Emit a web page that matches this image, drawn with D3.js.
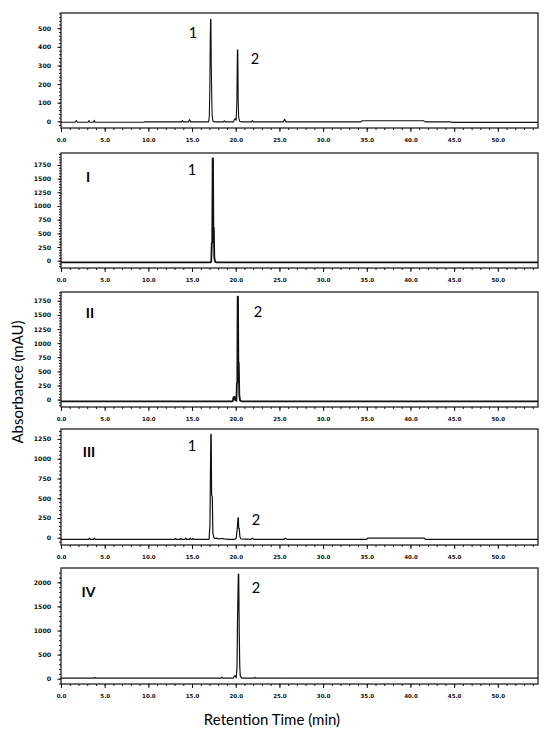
<!DOCTYPE html>
<html>
<head>
<meta charset="utf-8">
<script src="https://cdn.jsdelivr.net/npm/d3@7"></script>
<style>
  body { margin: 0; background: #fff; }
  svg { display: block; }
</style>
</head>
<body>
<div id="chart"></div>
<script>
// retention times (min) and absorbance (mAU)
const traceMix = [[0,-5],[1.6,-5],[1.75,4],[1.9,-5],[3.1,-5],[3.2,4],[3.3,-5],[3.7,-5],[3.8,5],[3.9,-5],
  [9.5,-5],[9.6,-3],[13.8,-3],[13.9,4],[14.0,-3],[14.6,-3],[14.7,9],[14.85,-3],[16.9,-3],[16.98,30],
  [17.04,195],[17.08,420],[17.12,548],[17.16,548],[17.2,300],[17.24,168],[17.3,30],[17.4,0],[17.55,-3],
  [18.6,-3],[18.7,3],[18.8,-3],[19.75,-3],[19.85,10],[19.95,15],[20.05,5],[20.13,100],[20.19,383],
  [20.24,383],[20.28,109],[20.34,20],[20.45,0],[20.65,-3],[21.8,-3],[21.9,4],[22.0,-3],[25.45,-3],
  [25.6,11],[25.75,-3],[34.3,-3],[34.5,3],[41.5,3],[41.7,-3],[44.6,-3],[44.8,-6],[54.6,-6]];
const traceI = [[0,-30],[17.1,-30],[17.2,-20],[17.26,318],[17.31,330],[17.36,1872],[17.4,1872],
  [17.44,622],[17.49,600],[17.55,60],[17.65,-20],[17.8,-30],[54.6,-30]];
const traceII = [[0,-30],[19.65,-30],[19.75,40],[19.85,50],[19.95,-10],[20.08,-20],[20.13,284],
  [20.18,300],[20.22,1822],[20.26,1822],[20.3,668],[20.35,650],[20.41,80],[20.5,-20],[20.7,-30],[54.6,-30]];
const traceIII = [[0,-20],[3.15,-20],[3.25,-5],[3.35,-20],[3.7,-20],[3.8,-5],[3.9,-20],[13.0,-20],
  [13.1,-8],[13.2,-20],[13.6,-20],[13.7,-8],[13.8,-20],[14.2,-20],[14.3,-6],[14.4,-20],[14.7,-20],
  [14.8,-4],[14.9,-20],[15.0,-20],[15.1,-8],[15.2,-20],[16.95,-20],[17.05,160],[17.1,752],[17.15,1309],
  [17.19,1309],[17.24,540],[17.32,520],[17.38,60],[17.5,0],[17.6,-10],[17.8,-5],[18.0,-15],[18.4,-10],
  [18.7,-15],[19.2,-20],[19.9,-20],[20.05,-10],[20.18,119],[20.26,253],[20.3,253],[20.34,119],
  [20.4,119],[20.48,10],[20.6,-15],[21.75,-20],[21.9,-5],[22.05,-20],[25.55,-20],[25.7,-5],[25.85,-20],
  [35.0,-20],[35.1,-6],[41.6,-6],[41.7,-20],[54.6,-20]];
const traceIV = [[0,10],[3.8,10],[3.9,25],[4.0,10],[18.3,10],[18.4,30],[18.5,10],[19.7,10],[19.85,55],
  [19.95,60],[20.05,20],[20.15,250],[20.21,1280],[20.3,2172],[20.34,2172],[20.4,975],[20.46,260],
  [20.52,60],[20.7,10],[22.1,10],[22.2,25],[22.3,10],[25.5,10],[25.65,20],[25.8,10],[54.6,10]];

const traces = [traceMix, traceI, traceII, traceIII, traceIV];
const yTicks = [
  [0, 100, 200, 300, 400, 500],
  [0, 250, 500, 750, 1000, 1250, 1500, 1750],
  [0, 250, 500, 750, 1000, 1250, 1500, 1750],
  [0, 250, 500, 750, 1000, 1250],
  [0, 500, 1000, 1500, 2000]
];
const xTicks = [0, 5, 10, 15, 20, 25, 30, 35, 40, 45, 50];
const panelNames = ['', 'I', 'II', 'III', 'IV'];
const peakNames = [['1', '2'], ['1'], ['2'], ['1', '2'], ['2']];
const xTitle = 'Retention Time (min)';
const yTitle = 'Absorbance (mAU)';

// layout
const W = 550, H = 732;
const left = 61, right = 538;
const tops = [13, 153, 292, 429, 568];
const bottoms = [128, 268, 407, 545, 684];
const yDomains = [[-36, 582], [-133, 1969], [-131, 1906], [-92, 1376], [-110, 2297]];
const strokeW = [1.1, 1.8, 1.8, 1.2, 1.2];
// [x px, dy px from panel top] for text annotations
const panelNamePos = [null, [88, 24], [90, 21], [89, 23], [88.5, 24]];
const peakNamePos = [[[193, 20], [255, 46]], [[192, 17]], [[258, 20]], [[192, 17], [256, 91]], [[256, 20]]];

const svg = d3.select('#chart').append('svg').attr('width', W).attr('height', H);
const font = 'Lato, "Open Sans", sans-serif';
const tickFont = '"DejaVu Sans", sans-serif';

const x = d3.scaleLinear().domain([0, 54.6]).range([left, right]);

traces.forEach((data, i) => {
  const g = svg.append('g');
  const y = d3.scaleLinear().domain(yDomains[i]).range([bottoms[i], tops[i]]);
  const step = yTicks[i][1] - yTicks[i][0];
  const minor = d3.range(yDomains[i][0] - (yDomains[i][0] % (step / 5)), yDomains[i][1], step / 5)
    .filter(v => v >= yDomains[i][0]);

  // frame
  g.append('rect').attr('x', left).attr('y', tops[i])
    .attr('width', right - left).attr('height', bottoms[i] - tops[i])
    .attr('fill', 'none').attr('stroke', '#333').attr('stroke-width', 1.4);

  // minor ticks
  g.append('g').attr('transform', `translate(${left},0)`)
    .call(d3.axisLeft(y).tickValues(minor).tickSize(2).tickFormat(''))
    .call(a => a.select('.domain').remove());
  g.append('g').attr('transform', `translate(0,${bottoms[i]})`)
    .call(d3.axisBottom(x).tickValues(d3.range(0, 55, 1)).tickSize(2).tickFormat(''))
    .call(a => a.select('.domain').remove());

  // major ticks
  const ya = g.append('g').attr('transform', `translate(${left},0)`)
    .call(d3.axisLeft(y).tickValues(yTicks[i]).tickSize(3.5).tickPadding(6.5).tickFormat(d3.format('d')));
  ya.select('.domain').remove();
  ya.selectAll('text').attr('font-family', tickFont).attr('font-weight', 'bold')
    .attr('font-size', 6.2).attr('fill', '#111');

  const xa = g.append('g').attr('transform', `translate(0,${bottoms[i]})`)
    .call(d3.axisBottom(x).tickValues(xTicks).tickSize(4).tickPadding(6).tickFormat(d3.format('.1f')));
  xa.select('.domain').remove();
  xa.selectAll('text').attr('font-family', tickFont).attr('font-weight', 'bold')
    .attr('font-size', 5.5).attr('fill', '#111');
  g.selectAll('.tick line').attr('stroke', '#111');

  // trace
  g.append('path').datum(data)
    .attr('d', d3.line().x(d => x(d[0])).y(d => y(d[1])))
    .attr('fill', 'none').attr('stroke', '#111').attr('stroke-width', strokeW[i])
    .attr('stroke-linejoin', 'round');

  if (panelNames[i]) {
    g.append('text').attr('x', panelNamePos[i][0]).attr('y', tops[i] + panelNamePos[i][1] + 5)
      .attr('text-anchor', 'middle').attr('font-family', font).attr('font-weight', 'bold')
      .attr('font-size', 14).text(panelNames[i]);
  }
  peakNames[i].forEach((p, j) => {
    g.append('text').attr('x', peakNamePos[i][j][0]).attr('y', tops[i] + peakNamePos[i][j][1] + 5)
      .attr('text-anchor', 'middle').attr('font-family', font)
      .attr('font-size', 14.5).text(p);
  });
});

svg.append('text').attr('x', 272).attr('y', 725).attr('text-anchor', 'middle')
  .attr('font-family', font).attr('font-size', 15).text(xTitle);
svg.append('text').attr('transform', 'translate(23,382) rotate(-90)').attr('text-anchor', 'middle')
  .attr('font-family', font).attr('font-size', 15).text(yTitle);
</script>
</body>
</html>
